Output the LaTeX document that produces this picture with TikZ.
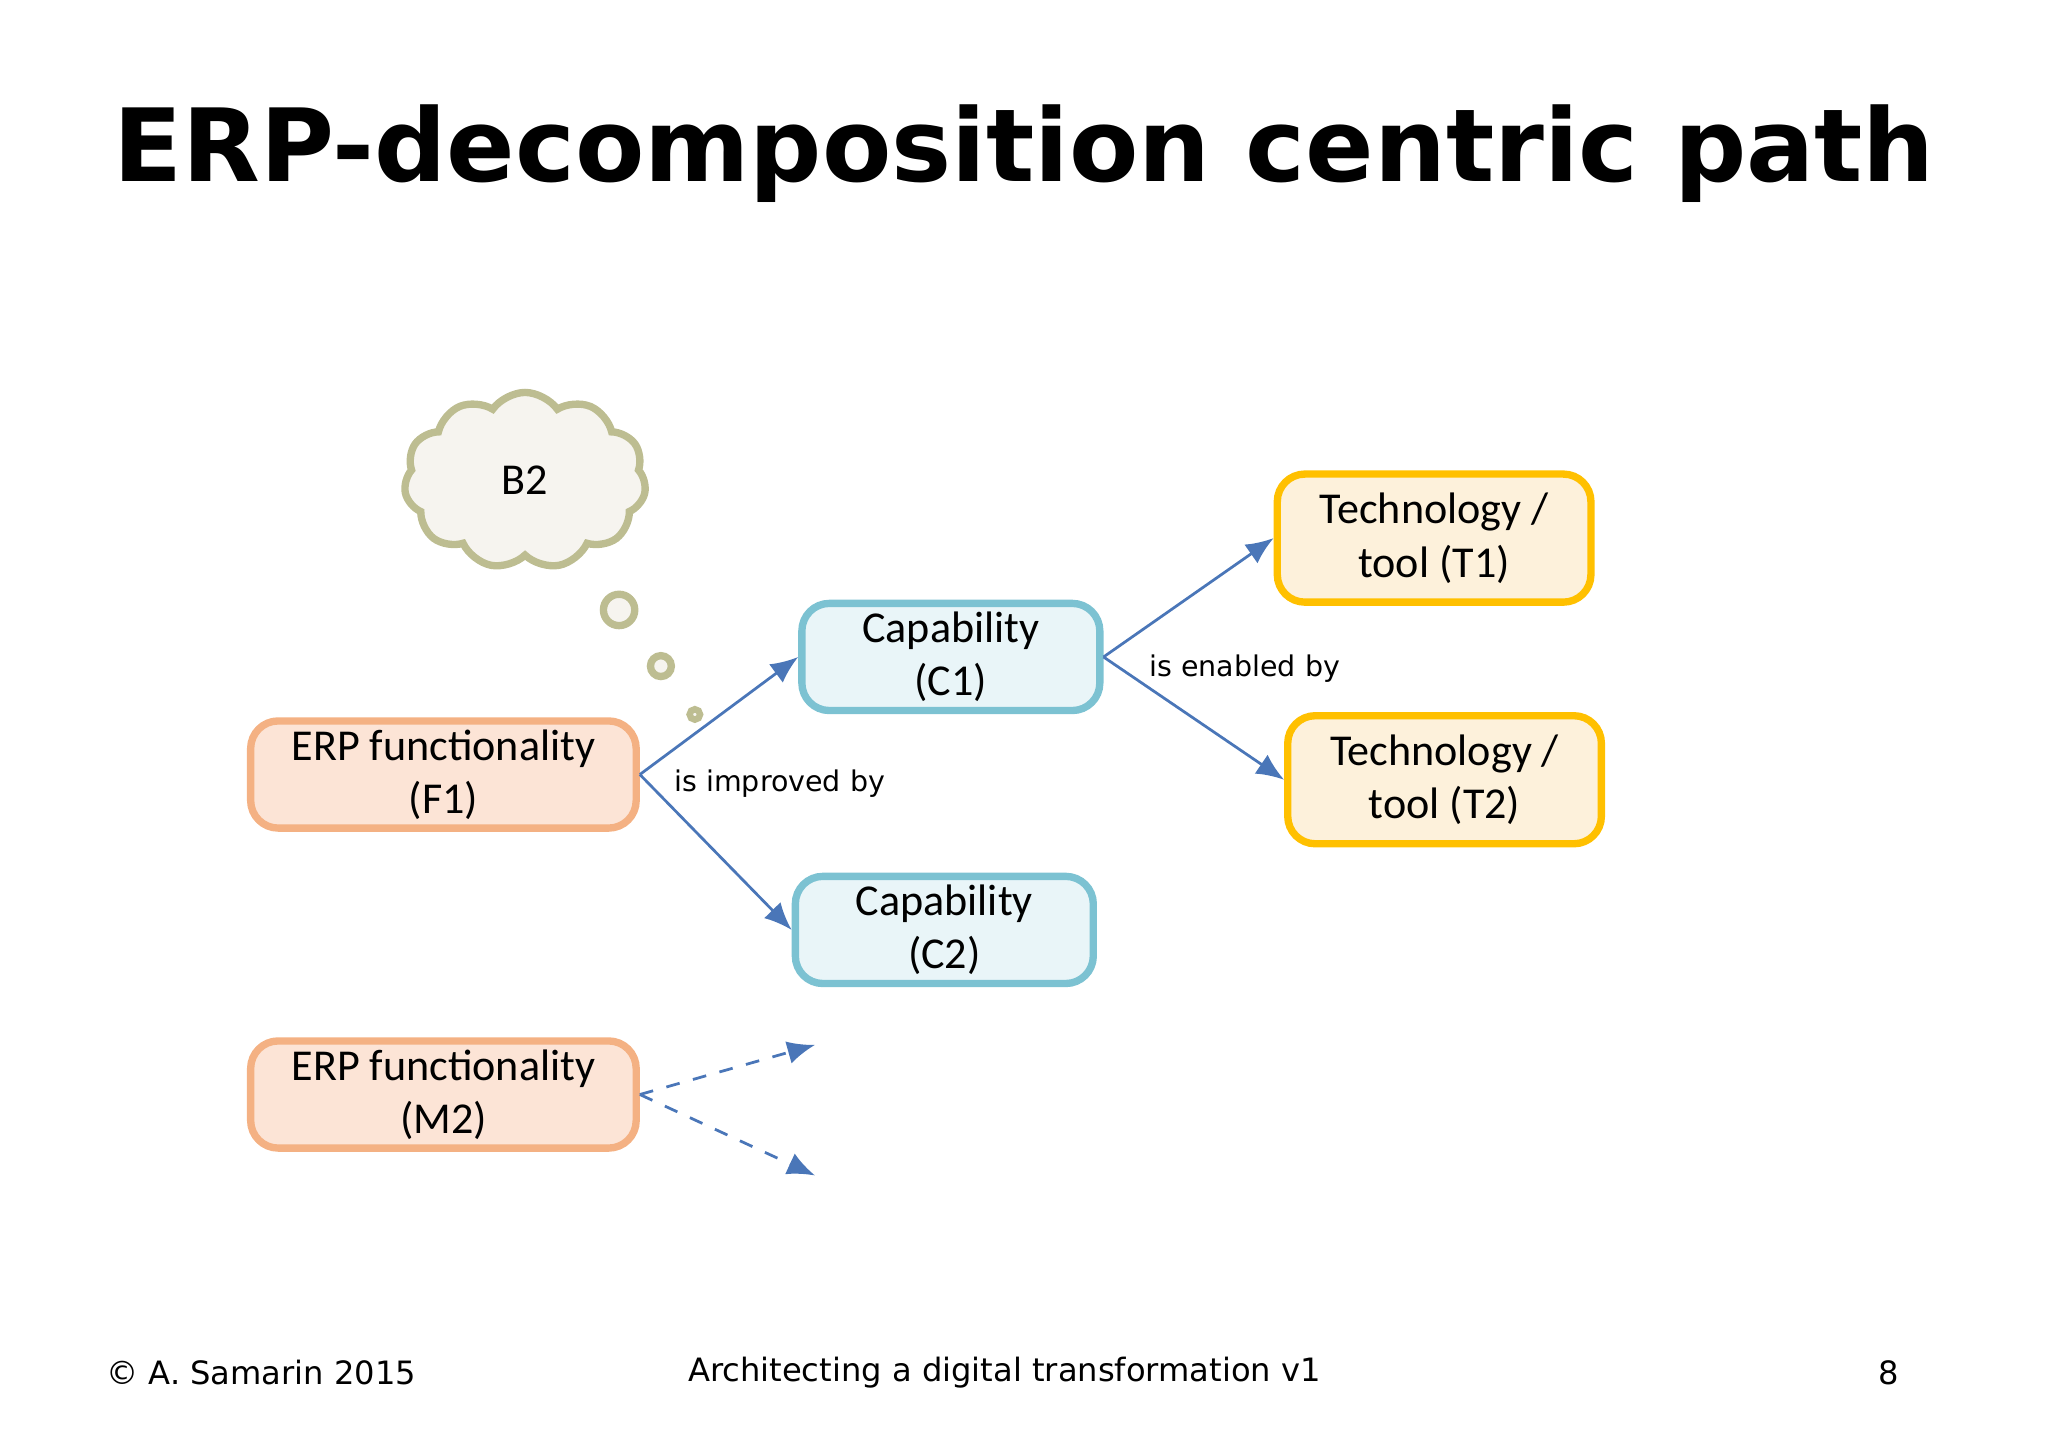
\documentclass[tikz,border=0pt]{standalone}
\usepackage{fontspec}
\setmainfont{Carlito}
\newfontfamily\verd{DejaVu Sans}
\usetikzlibrary{shapes.symbols,arrows.meta}
\definecolor{fpeach}{HTML}{FCE4D6}\definecolor{bpeach}{HTML}{F4B183}
\definecolor{fblue}{HTML}{E9F5F8}\definecolor{bblue}{HTML}{7CC2D2}
\definecolor{fyel}{HTML}{FDF1DB}\definecolor{byel}{HTML}{FFC000}
\definecolor{fcl}{HTML}{F6F4EF}\definecolor{bcl}{HTML}{BDBD91}
\definecolor{arr}{HTML}{4A76B8}
\tikzset{
 boxa/.style={draw=#1,line width=1.6pt,rounded corners=6pt,align=center,font=\fontsize{9.6pt}{11.6pt}\selectfont,inner sep=0pt},
 con/.style={draw=arr,line width=0.6pt,-{Latex[length=6pt,width=5pt]}},
 lab/.style={font=\verd\fontsize{6.2pt}{7pt}\selectfont}
}
\begin{document}
\begin{tikzpicture}[x=0.01cm,y=-0.01cm]
\useasboundingbox (0,0) rectangle (1568,1110);
\node[font=\verd\bfseries\fontsize{22pt}{26pt}\selectfont] (title) at (784,118) {ERP-decomposition centric path};
\node[boxa=bpeach,fill=fpeach,minimum width=295\pgflinewidth*0+2.95cm,minimum height=0.82cm] (f1) at (339.5,593) {ERP functionality\\(F1)};
\node[boxa=bpeach,fill=fpeach,minimum width=2.95cm,minimum height=0.82cm] (m2) at (339.5,838) {ERP functionality\\(M2)};
\node[boxa=bblue,fill=fblue,minimum width=2.28cm,minimum height=0.82cm] (c1) at (728,503) {Capability\\(C1)};
\node[boxa=bblue,fill=fblue,minimum width=2.28cm,minimum height=0.82cm] (c2) at (723,712) {Capability\\(C2)};
\node[boxa=byel,fill=fyel,minimum width=2.40cm,minimum height=0.98cm] (t1) at (1098,412) {Technology /\\tool (T1)};
\node[boxa=byel,fill=fyel,minimum width=2.40cm,minimum height=0.98cm] (t2) at (1106,597) {Technology /\\tool (T2)};
\node[cloud,cloud puffs=11,cloud puff arc=110,aspect=1.3,draw=bcl,fill=fcl,line width=1.6pt,minimum width=1.85cm,minimum height=1.35cm,font=\fontsize{9.6pt}{11pt}\selectfont] (b2) at (402,368) {B2};
\draw[bcl,fill=fcl,line width=1.6pt] (474,467) circle (12);
\draw[bcl,fill=fcl,line width=1.6pt] (506,510) circle (8);
\draw[bcl,fill=fcl,line width=1.4pt] (532,547) circle (4);
\draw[con] (f1.east) -- (c1.west);
\draw[con] (f1.east) -- (c2.west);
\draw[con] (c1.east) -- (t1.west);
\draw[con] (c1.east) -- (t2.west);
\coordinate (d1) at (624,800);\coordinate (d2) at (624,900);
\draw[con,dashed] (m2.east) -- (d1);
\draw[con,dashed] (m2.east) -- (d2);
\node[lab] (l1) at (597,600) {is improved by};
\node[lab] (l2) at (953,512) {is enabled by};
\node[lab,font=\verd\fontsize{7pt}{8pt}\selectfont] (ft1) at (200,1051) {© A. Samarin 2015};
\node[lab,font=\verd\fontsize{7pt}{8pt}\selectfont] (ft2) at (769,1051) {Architecting a digital transformation v1};
\node[lab,font=\verd\fontsize{7pt}{8pt}\selectfont] (ft3) at (1446,1051) {8};
\end{tikzpicture}
\end{document}
